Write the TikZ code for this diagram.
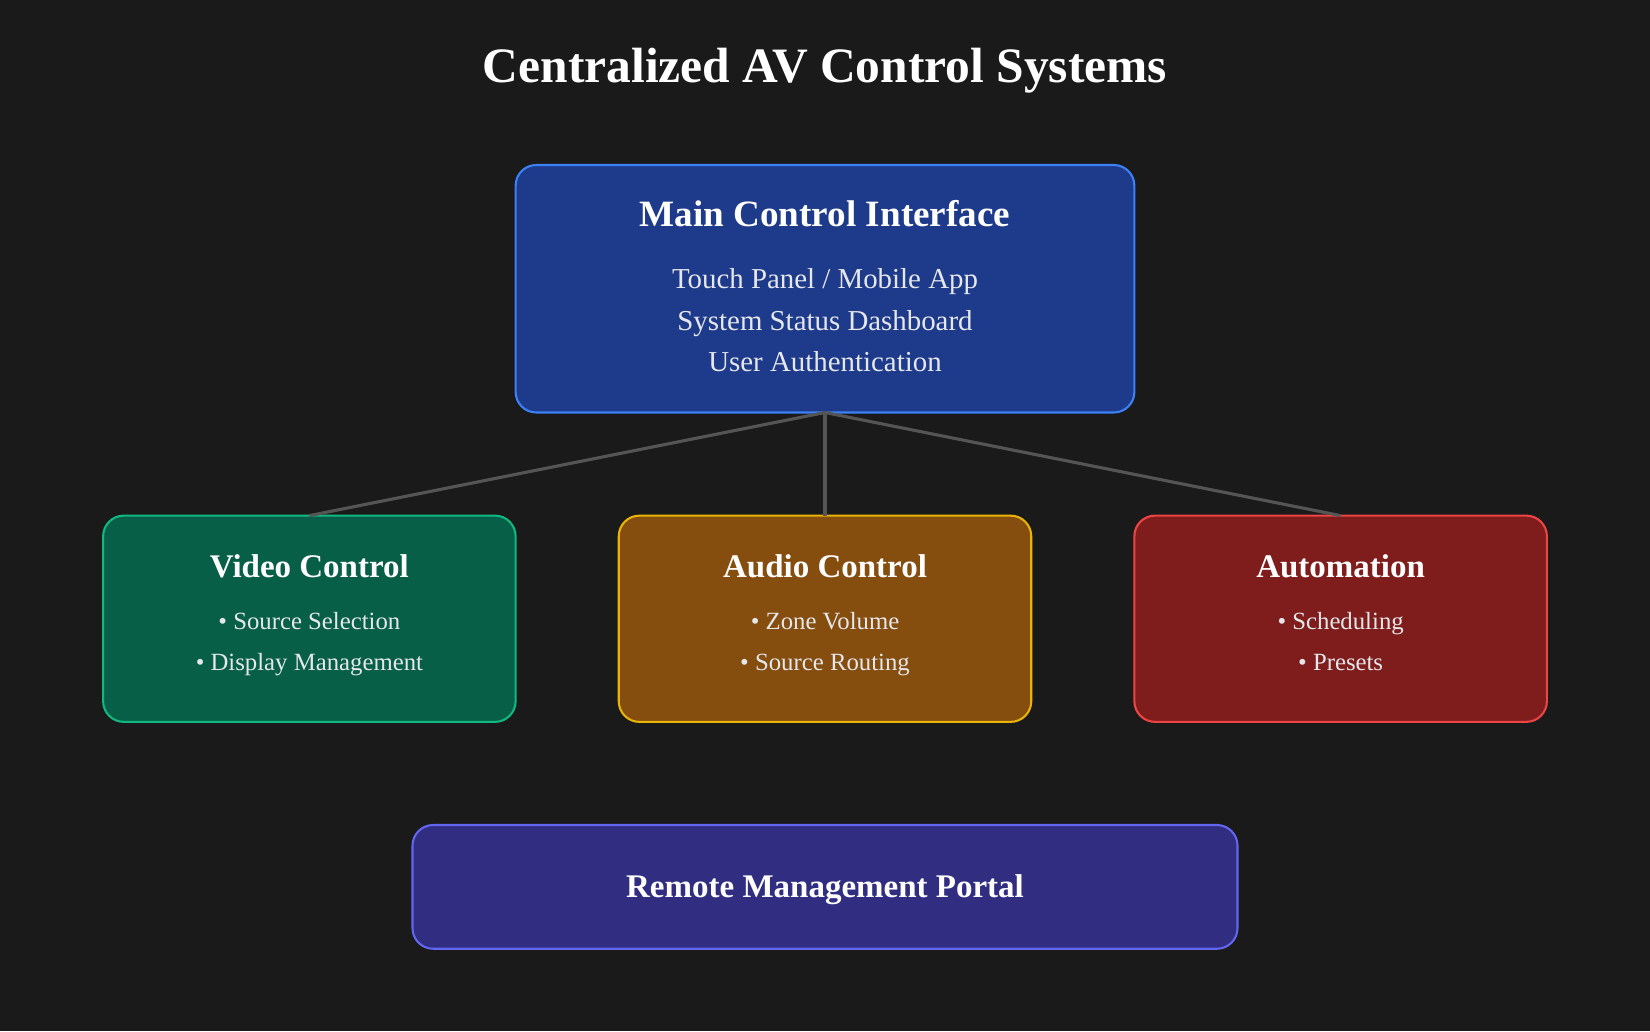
\documentclass[tikz,border=0pt]{standalone}
\usepackage{fontspec}
\setmainfont{Liberation Serif}
\usepackage{xcolor}
\usepackage{tikz}
\definecolor{bgdark}{HTML}{1A1A1A}
\definecolor{linkgray}{HTML}{555555}
\definecolor{mainfill}{HTML}{1E3A8A}
\definecolor{mainline}{HTML}{3B82F6}
\definecolor{videofill}{HTML}{065F46}
\definecolor{videoline}{HTML}{10B981}
\definecolor{audiofill}{HTML}{854D0E}
\definecolor{audioline}{HTML}{EAB308}
\definecolor{autofill}{HTML}{7F1D1D}
\definecolor{autoline}{HTML}{EF4444}
\definecolor{remotefill}{HTML}{312E81}
\definecolor{remoteline}{HTML}{6366F1}
\definecolor{bodytext}{HTML}{E5E7EB}

\begin{document}
\begin{tikzpicture}[x=1pt, y=-1pt,
    box/.style = {draw, line width=2pt, rounded corners=20pt, inner sep=0pt, outer sep=0pt},
    link/.style = {draw=linkgray, line width=3pt},
    title/.style = {anchor=base, text=white, font=\fontsize{48}{58}\selectfont\bfseries},
    head/.style = {anchor=base, text=white, font=\fontsize{36}{43}\selectfont\bfseries},
    subhead/.style = {anchor=base, text=white, font=\fontsize{32}{38}\selectfont\bfseries},
    mainitem/.style = {anchor=base, text=bodytext, font=\fontsize{28}{34}\selectfont},
    item/.style = {anchor=base, text=bodytext, font=\fontsize{24}{29}\selectfont}]
    \def\subw{400} \def\subh{200}

    \fill[bgdark] (0,0) rectangle (1600,1000);
    \useasboundingbox (0,0) rectangle (1600,1000);

    \node[title] (heading) at (800,80) {Centralized AV Control Systems};

    % boxes
    \node[box, fill=mainfill, draw=mainline, minimum width=600pt, minimum height=240pt] (main) at (800,280) {};
    \node[box, fill=videofill, draw=videoline, minimum width=\subw pt, minimum height=\subh pt] (video) at (300,600) {};
    \node[box, fill=audiofill, draw=audioline, minimum width=\subw pt, minimum height=\subh pt] (audio) at (800,600) {};
    \node[box, fill=autofill, draw=autoline, minimum width=\subw pt, minimum height=\subh pt] (auto) at (1300,600) {};
    \node[box, fill=remotefill, draw=remoteline, minimum width=800pt, minimum height=120pt] (remote) at (800,860) {};

    % links
    \draw[link] (main.south) -- (video.north);
    \draw[link] (main.south) -- (audio.north);
    \draw[link] (main.south) -- (auto.north);

    % texts
    \node[head] (mainhead) at (800,220) {Main Control Interface};
    \node[mainitem] (touch) at (800,280) {Touch Panel / Mobile App};
    \node[mainitem] (status) at (800,320) {System Status Dashboard};
    \node[mainitem] (auth) at (800,360) {User Authentication};

    \node[subhead] (videohead) at (300,560) {Video Control};
    \node[item] (source) at (300,610) {• Source Selection};
    \node[item] (display) at (300,650) {• Display Management};

    \node[subhead] (audiohead) at (800,560) {Audio Control};
    \node[item] (zone) at (800,610) {• Zone Volume};
    \node[item] (routing) at (800,650) {• Source Routing};

    \node[subhead] (autohead) at (1300,560) {Automation};
    \node[item] (sched) at (1300,610) {• Scheduling};
    \node[item] (presets) at (1300,650) {• Presets};

    \node[subhead] (remotehead) at (800,870) {Remote Management Portal};
\end{tikzpicture}
\end{document}
